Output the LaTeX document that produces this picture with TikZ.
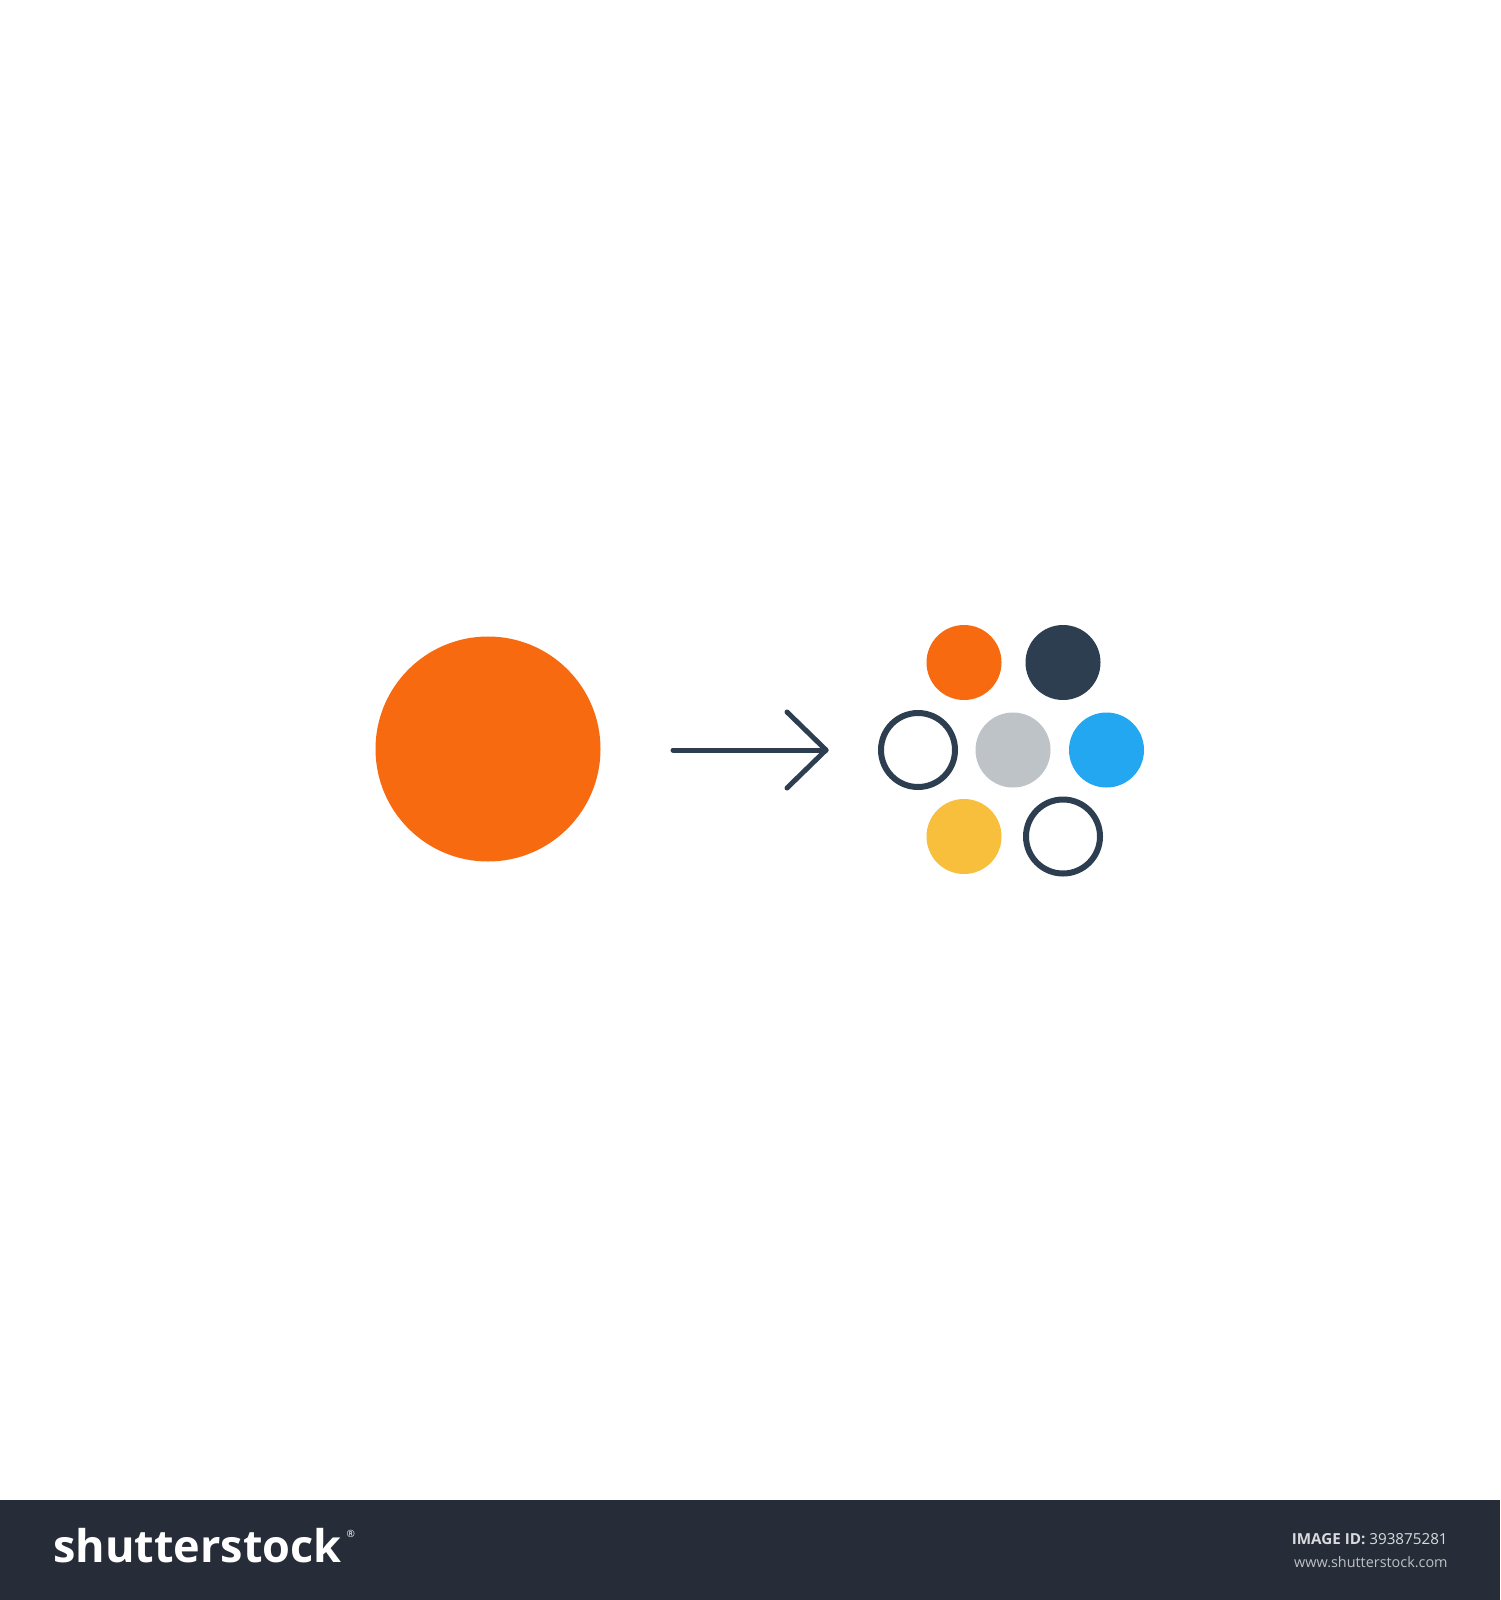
\documentclass[tikz,border=0pt]{standalone}
\usepackage{fontspec}
\setmainfont{Open Sans}
\definecolor{cOrange}{HTML}{F76A10}
\definecolor{cDark}{HTML}{2D3E50}
\definecolor{cGray}{HTML}{BEC3C7}
\definecolor{cBlue}{HTML}{22A7F0}
\definecolor{cYellow}{HTML}{F7BF3C}
\definecolor{cBar}{HTML}{272D38}
\definecolor{cBarText}{HTML}{D8DADD}
\tikzset{
  dot/.style={circle, inner sep=0pt, minimum size=37.5pt},
  ring/.style={circle, inner sep=0pt, minimum size=37pt, draw=cDark, line width=3pt, fill=white},
  arrowline/.style={draw=cDark, line width=2.5pt, line cap=round, line join=round},
}
\begin{document}
\begin{tikzpicture}[x=0.5pt, y=-0.5pt]
\useasboundingbox[fill=white] (0,0) rectangle (1500,1600);
% big circle
\node[circle, inner sep=0pt, minimum size=112.5pt, fill=cOrange] (big) at (488,749) {};
% arrow
\coordinate (tail) at (673,750);
\coordinate (tip) at (826,750);
\coordinate (armA) at (787,712);
\coordinate (armB) at (787,788);
\draw[arrowline] (tail) -- (tip);
\draw[arrowline] (armA) -- (tip) -- (armB);
% cluster
\node[dot, fill=cOrange] (c1) at (964,662.5) {};
\node[dot, fill=cDark] (c2) at (1063,662.5) {};
\node[ring] (c3) at (918,750) {};
\node[dot, fill=cGray] (c4) at (1013,750) {};
\node[dot, fill=cBlue] (c5) at (1106.5,750) {};
\node[dot, fill=cYellow] (c6) at (964,836.5) {};
\node[ring] (c7) at (1063,836.5) {};
% bottom bar
\fill[cBar] (0,1500) rectangle (1500,1600);
\node[anchor=base west, inner sep=0pt, text=white, font=\fontsize{22.5}{22.5}\selectfont\bfseries] (logo) at (53,1562) {shutterstock};
\node[anchor=west, inner sep=0pt, text=white, font=\fontsize{5}{5}\selectfont] (reg) at (logo.north east) [xshift=2pt, yshift=-3pt] {®};
\node[anchor=base east, inner sep=0pt, text=cBarText, font=\fontsize{7.6}{7.6}\selectfont] (imgid) at (1448,1544) {\textbf{IMAGE ID:} 393875281};
\node[anchor=base east, inner sep=0pt, text=cBarText!85!cBar, font=\fontsize{7.2}{7.2}\selectfont] (url) at (1448,1567) {www.shutterstock.com};
\end{tikzpicture}
\end{document}
